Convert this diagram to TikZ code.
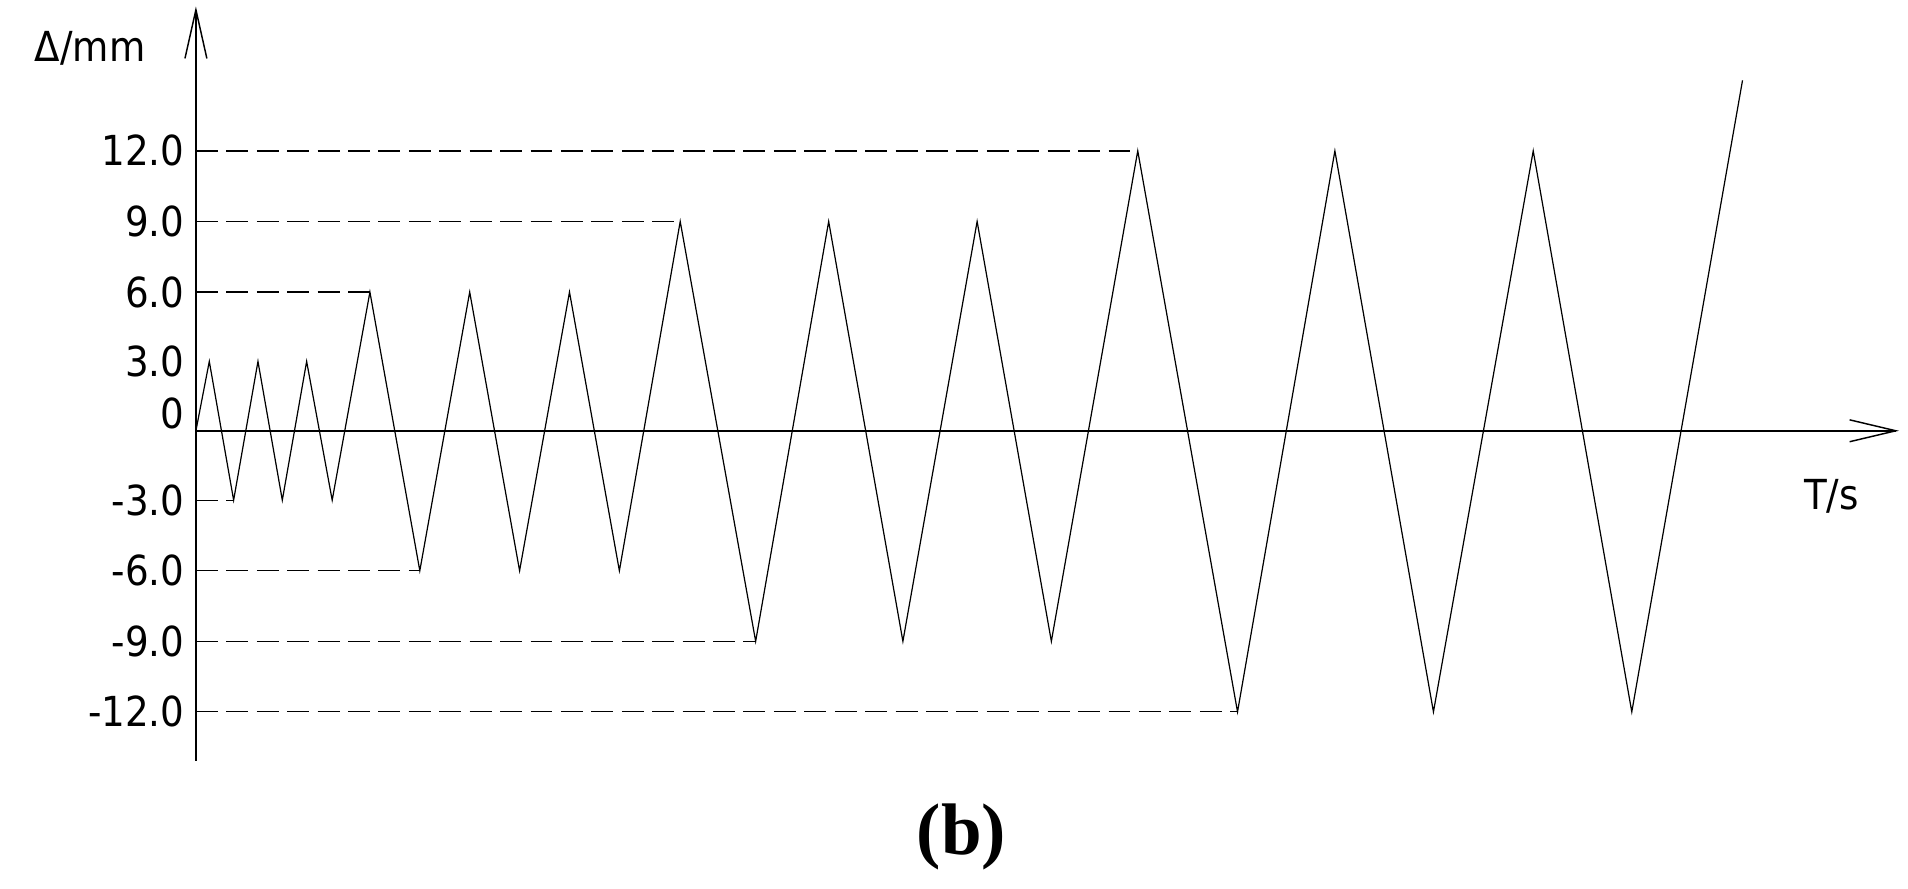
\documentclass[tikz,border=0pt]{standalone}
\usepackage{fontspec}
\setmainfont{Liberation Serif}
\newfontfamily\cadfont{DejaVu Sans Condensed}
\begin{document}
\begin{tikzpicture}[x=0.5pt,y=-0.5pt,
  lbl/.style={font=\cadfont\fontsize{17}{17}\selectfont,inner sep=0pt},
  dsh/.style={dash pattern=on 9pt off 3.5pt,line width=0.5pt},
  ax/.style={line width=0.6pt}]
\useasboundingbox (0,0) rectangle (1568,730);
\coordinate (O) at (161,354);
\coordinate (yb) at (161,625);
\coordinate (yt) at (161,8);
\coordinate (xe) at (1558,354);
\draw[ax] (yb) -- (yt);
\draw[ax] (152,48) -- (yt) -- (170,48);
\draw[ax] (O) -- (xe);
\draw[ax] (1520,345) -- (xe) -- (1520,363);
\foreach \n/\x/\y in {p1/172/297,p2/192/411,p3/212/297,p4/232/411,p5/252/297,p6/273/411,
 p7/304/240,p8/345/469,p9/386/240,p10/427/469,p11/468/240,p12/509/469,
 p13/559/182,p14/621/527,p15/681/182,p16/742/527,p17/803/182,p18/864/527,
 p19/935/124,p20/1017/585,p21/1097/124,p22/1178/585,p23/1260/124,p24/1341/585,p25/1432/66}
  \coordinate (\n) at (\x,\y);
\draw[line width=0.5pt] (O)--(p1)--(p2)--(p3)--(p4)--(p5)--(p6)--(p7)--(p8)--(p9)--(p10)--(p11)--(p12)--(p13)--(p14)--(p15)--(p16)--(p17)--(p18)--(p19)--(p20)--(p21)--(p22)--(p23)--(p24)--(p25);
\draw[dsh] (161,124) -- (p19);
\draw[dsh] (161,182) -- (p13);
\draw[dsh] (161,240) -- (p7);
\draw[dsh] (161,411) -- (p2);
\draw[dsh] (161,469) -- (p8);
\draw[dsh] (161,527) -- (p14);
\draw[dsh] (161,585) -- (p20);
\node[lbl,anchor=east] (l12) at (152,124) {12.0};
\node[lbl,anchor=east] (l9) at (152,182) {9.0};
\node[lbl,anchor=east] (l6) at (152,240) {6.0};
\node[lbl,anchor=east] (l3) at (152,297) {3.0};
\node[lbl,anchor=east] (l0) at (152,340) {0};
\node[lbl,anchor=east] (lm3) at (152,411) {-3.0};
\node[lbl,anchor=east] (lm6) at (152,469) {-6.0};
\node[lbl,anchor=east] (lm9) at (152,527) {-9.0};
\node[lbl,anchor=east] (lm12) at (152,585) {-12.0};
\node[lbl] (ylab) at (74,40) {Δ/mm};
\node[lbl] (xlab) at (1505,408) {T/s};
\node[font=\fontsize{30}{30}\selectfont\bfseries] (cap) at (790,688) {(b)};
\end{tikzpicture}
\end{document}
